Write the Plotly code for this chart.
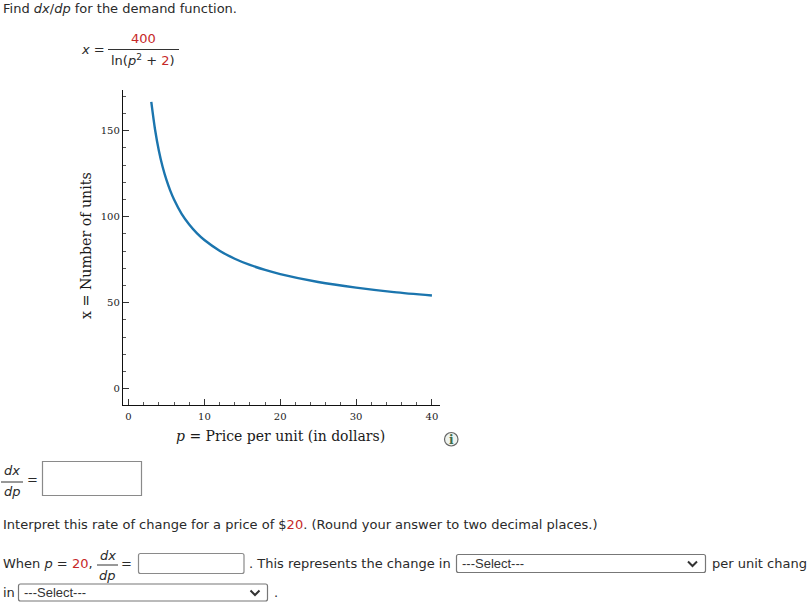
import plotly.graph_objects as go

W, H = 807, 611

price = [3, 3.5, 4, 4.5, 5, 5.5, 6, 7, 8, 9, 10, 12, 14, 16, 18, 20, 25, 30, 35, 40]
units = [166.8, 150.6, 138.4, 128.9, 121.4, 115.2, 110.0, 101.7, 95.5, 90.5, 86.5,
         80.3, 75.6, 72.0, 69.1, 66.7, 62.1, 58.8, 56.2, 54.2]
x_ticks = [0, 10, 20, 30, 40]
y_ticks = [0, 50, 100, 150]

SANS = "DejaVu Sans"
SERIF = "DejaVu Serif"
INK = "#2a2a2a"
RED = "#c62828"


def px(x):
    return x / W


def py(y):
    return 1 - y / H


fig = go.Figure(go.Scatter(x=price, y=units, mode="lines",
                           line=dict(color="#1b75ae", width=2.4, shape="spline", smoothing=0.8),
                           hoverinfo="skip", showlegend=False))

axis_common = dict(showgrid=False, zeroline=False, showline=True, linecolor="#111111", linewidth=1.4,
                   ticks="inside", ticklen=6, tickwidth=1, tickcolor="#333333",
                   tickfont=dict(family=SERIF, size=10, color="#222222"))
fig.update_xaxes(range=[-0.73, 41.0], domain=[px(123), px(439.5)], tickvals=x_ticks, anchor="y",
                 ticklabelstandoff=2,
                 minor=dict(dtick=2, ticks="inside", ticklen=3, tickwidth=1, tickcolor="#555555"),
                 **axis_common)
fig.update_yaxes(range=[-9.3, 173.8], domain=[py(404.8), py(89.8)], tickvals=y_ticks, anchor="x",
                 minor=dict(dtick=10, ticks="inside", ticklen=3, tickwidth=1, tickcolor="#555555"),
                 **axis_common)

annotations = []
shapes = []


def text(s, x, y, size=13, color=INK, family=SANS, anchor="left", angle=0):
    annotations.append(dict(text=s, x=px(x), y=py(y), xref="paper", yref="paper", showarrow=False,
                            xanchor=anchor, yanchor="middle", textangle=angle, borderpad=0,
                            font=dict(family=family, size=size, color=color)))


def rule(x0, x1, y, color="#333333", width=1):
    shapes.append(dict(type="line", xref="paper", yref="paper", x0=px(x0), x1=px(x1), y0=py(y), y1=py(y),
                       line=dict(color=color, width=width)))


def box(x0, y0, x1, y1, r=0, color="#8a8a8a", width=1.2):
    a, b, c, d = px(x0), px(x1), py(y0), py(y1)
    rx, ry = r / W, r / H
    path = (f"M{a + rx},{c} L{b - rx},{c} Q{b},{c} {b},{c - ry} L{b},{d + ry} Q{b},{d} {b - rx},{d} "
            f"L{a + rx},{d} Q{a},{d} {a},{d + ry} L{a},{c - ry} Q{a},{c} {a + rx},{c} Z")
    shapes.append(dict(type="path", xref="paper", yref="paper", path=path, line=dict(color=color, width=width)))


def chevron(x, y):
    shapes.append(dict(type="path", xref="paper", yref="paper",
                       path=f"M{px(x - 4.5)},{py(y - 2)} L{px(x)},{py(y + 2.5)} L{px(x + 4.5)},{py(y - 2)}",
                       line=dict(color="#333333", width=2)))


# Heading and formula
text("Find <i>dx</i>/<i>dp</i> for the demand function.", 2, 8.5)
text("<i>x</i> =", 80, 49)
rule(108, 179, 49.5)
text("400", 143.5, 38, color=RED, anchor="center")
text("ln(<i>p</i><sup>2</sup> + <span style='color:%s'>2</span>)" % RED, 110, 60)

# Axis titles
text("<i>p</i> = Price per unit (in dollars)", 280, 436, size=14, family=SERIF, color="#1a1a1a", anchor="center")
text("x = Number of units", 86, 246, size=14.2, family=SERIF, color="#1a1a1a", anchor="center", angle=-90)

# Info icon
shapes.append(dict(type="circle", xref="paper", yref="paper", x0=px(444.5), x1=px(458), y0=py(432.5), y1=py(446),
                   line=dict(color="#666666", width=1.2), fillcolor="#eef3ee"))
text("<b>i</b>", 451.2, 439.5, size=12, family=SERIF, color="#3d6b4a", anchor="center")

# First answer line
text("<i>dx</i>", 12, 470, anchor="center")
rule(1, 23, 482)
text("<i>dp</i>", 12, 491, anchor="center")
text("=", 32, 479, anchor="center")
box(42.5, 461.5, 141.5, 495.5)

text("Interpret this rate of change for a price of $<span style='color:%s'>20</span>. "
     "(Round your answer to two decimal places.)" % RED, 2, 524)

# Second answer line
text("When <i>p</i> = <span style='color:%s'>20</span>," % RED, 2, 563)
text("<i>dx</i>", 107.5, 555, anchor="center")
rule(97, 118, 565)
text("<i>dp</i>", 107.5, 575, anchor="center")
text("=", 127, 563, anchor="center")
box(138.5, 553.5, 244, 573.5, r=2)
text(". This represents the change in", 248, 563)
box(456.5, 554.5, 705.5, 572.5, r=2, color="#777777")
text("---Select---", 461, 563.5, size=13, family="Liberation Sans", color="#333333")
chevron(692.5, 563.5)
text("per unit change", 711, 563)

text("in", 2, 592)
box(18.5, 584, 267.5, 601, r=2, color="#777777")
text("---Select---", 23, 592.5, size=13, family="Liberation Sans", color="#333333")
chevron(255, 592.5)
text(".", 273, 592)

fig.update_layout(width=W, height=H, margin=dict(l=0, r=0, t=0, b=0, pad=0), autosize=False,
                  paper_bgcolor="white", plot_bgcolor="white", showlegend=False,
                  annotations=annotations, shapes=shapes)

fig.write_html("out.html", config={"displayModeBar": False},
               post_script="document.body.style.margin='0';document.body.style.overflow='hidden';")
